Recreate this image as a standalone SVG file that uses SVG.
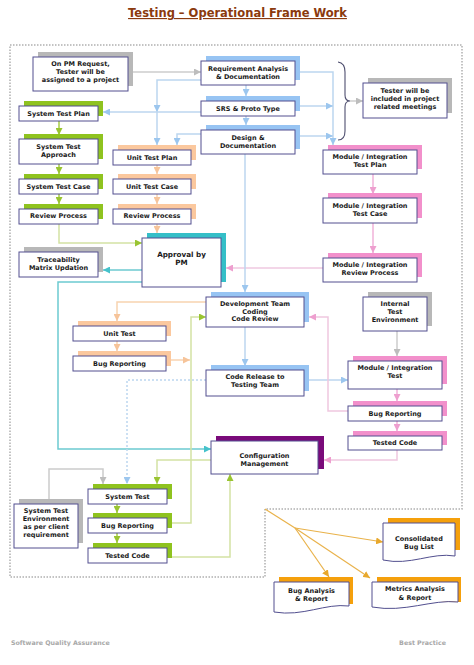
<svg xmlns="http://www.w3.org/2000/svg" width="474" height="665" viewBox="0 0 474 665">
<style>
.bg{fill:#fff}
.box{fill:#fff;stroke:#524f8f;stroke-width:1}
.t{font-family:"DejaVu Sans",Verdana,sans-serif;font-size:6.5px;font-weight:bold;fill:#1a1a1a;text-anchor:middle}
.big{font-size:7.2px}
.title{font-family:"DejaVu Sans",Verdana,sans-serif;font-size:11.5px;font-weight:bold;fill:#8b3a0e;text-anchor:middle;text-decoration:underline}
.foot{font-family:"DejaVu Sans",Verdana,sans-serif;font-size:6.3px;font-weight:bold;fill:#a8a8a8}
.border{fill:none;stroke:#b0b0b0;stroke-width:1.5;stroke-dasharray:1.5 1.5}
.sGray{fill:#b8b8b8}.sBlue{fill:#97c4f3}.sGreen{fill:#8fc31f}.sPeach{fill:#fbc89e}
.sPink{fill:#f290cb}.sTeal{fill:#35bfc8}.sPurple{fill:#7a0a7a}.sOrange{fill:#f5a00c}
.c{fill:none;stroke-width:1.5}
.lGray{stroke:#cccccc}.lBlue{stroke:#bcd6ef}.lGreen{stroke:#a7cc44}.lPale{stroke:#d3e2a4}
.lPeach{stroke:#f8d3b0}.lPink{stroke:#f1b2d8}.lPinkPale{stroke:#efc8e0}.lTeal{stroke:#6ccad1}.lOrange{stroke:#e9b24a;stroke-width:1.2}
.dash{stroke-dasharray:2 2}
.brace{fill:none;stroke:#4f4f6f;stroke-width:1.1}
</style>
<defs>
<marker id="mGray" viewBox="0 0 7 7" refX="7" refY="3.5" markerWidth="7" markerHeight="7" markerUnits="userSpaceOnUse" orient="auto"><path d="M0,0 L7,3.5 L0,7 z" fill="#bdbdbd"/></marker>
<marker id="mBlue" viewBox="0 0 7 7" refX="7" refY="3.5" markerWidth="7" markerHeight="7" markerUnits="userSpaceOnUse" orient="auto"><path d="M0,0 L7,3.5 L0,7 z" fill="#9cc6ee"/></marker>
<marker id="mGreen" viewBox="0 0 7 7" refX="7" refY="3.5" markerWidth="7" markerHeight="7" markerUnits="userSpaceOnUse" orient="auto"><path d="M0,0 L7,3.5 L0,7 z" fill="#99c431"/></marker>
<marker id="mPeach" viewBox="0 0 7 7" refX="7" refY="3.5" markerWidth="7" markerHeight="7" markerUnits="userSpaceOnUse" orient="auto"><path d="M0,0 L7,3.5 L0,7 z" fill="#f6c49a"/></marker>
<marker id="mPink" viewBox="0 0 7 7" refX="7" refY="3.5" markerWidth="7" markerHeight="7" markerUnits="userSpaceOnUse" orient="auto"><path d="M0,0 L7,3.5 L0,7 z" fill="#ee9fcf"/></marker>
<marker id="mTeal" viewBox="0 0 7 7" refX="7" refY="3.5" markerWidth="7" markerHeight="7" markerUnits="userSpaceOnUse" orient="auto"><path d="M0,0 L7,3.5 L0,7 z" fill="#45c2cb"/></marker>
<marker id="mOrange" viewBox="0 0 7 7" refX="7" refY="3.5" markerWidth="7" markerHeight="7" markerUnits="userSpaceOnUse" orient="auto"><path d="M0,0 L7,3.5 L0,7 z" fill="#e8a82c"/></marker>
</defs>
<rect class="bg" x="0" y="0" width="474" height="665"/>
<text class="title" x="237.5" y="17">Testing – Operational Frame Work</text>
<path class="border" d="M10,45 H462 V509 H265 V577 H10 Z"/>

<g id="connectors">
<path class="c lGray" d="M128,72 H201" marker-end="url(#mGray)"/>
<path class="c lBlue" d="M201,80 H157 V112" marker-end="url(#mBlue)"/>
<path class="c lBlue" d="M157,112 V145" marker-end="url(#mBlue)"/>
<path class="c lBlue" d="M201,112 H103" marker-end="url(#mBlue)"/>
<path class="c lBlue" d="M201,134 H177 V145" marker-end="url(#mBlue)"/>
<path class="c lBlue" d="M246,85 V96" marker-end="url(#mBlue)"/>
<path class="c lBlue" d="M246,116 V125" marker-end="url(#mBlue)"/>
<path class="c lBlue" d="M300,72 H333 V145" marker-end="url(#mBlue)"/>
<path class="c lBlue" d="M300,106 H333" marker-end="url(#mBlue)"/>
<path class="c lBlue" d="M300,136 H333" marker-end="url(#mBlue)"/>
<path class="brace" d="M338,62 Q345,63 345,72 V95 Q345,101 350,101 Q345,101 345,107 V131 Q345,140 338,140"/>
<path class="c lGray" d="M350,101 H363" marker-end="url(#mGray)"/>
<path class="c lGreen" d="M59,121 V135" marker-end="url(#mGreen)"/>
<path class="c lGreen" d="M59,164 V174" marker-end="url(#mGreen)"/>
<path class="c lGreen" d="M59,194 V204" marker-end="url(#mGreen)"/>
<path class="c lPale" d="M59,224 V243 H142" marker-end="url(#mGreen)"/>
<path class="c lPeach" d="M157,165 V174" marker-end="url(#mPeach)"/>
<path class="c lPeach" d="M157,194 V204" marker-end="url(#mPeach)"/>
<path class="c lPeach" d="M157,224 V233" marker-end="url(#mPeach)"/>
<path class="c lTeal" d="M142,270 H103" marker-end="url(#mTeal)"/>
<path class="c lTeal" d="M142,282 H58 V449 H211" marker-end="url(#mTeal)"/>
<path class="c lPink" d="M373,174 V194" marker-end="url(#mPink)"/>
<path class="c lPink" d="M373,223 V253" marker-end="url(#mPink)"/>
<path class="c lPinkPale" d="M323,268 H226" marker-end="url(#mPink)"/>
<path class="c lBlue" d="M245,154 V292" marker-end="url(#mBlue)"/>
<path class="c lPeach" d="M206,302 H117 V321" marker-end="url(#mPeach)"/>
<path class="c lPeach" d="M117,341 V351" marker-end="url(#mPeach)"/>
<path class="c lPeach" d="M171,360 H190" marker-end="url(#mPeach)"/>
<path class="c lPale" d="M172,523 H191 V317 H206" marker-end="url(#mGreen)"/>
<path class="c lBlue" d="M245,327 V366" marker-end="url(#mBlue)"/>
<path class="c lBlue" d="M309,380 H348" marker-end="url(#mBlue)"/>
<path class="c lBlue dash" d="M206,380 H127 V484" marker-end="url(#mBlue)"/>
<path class="c lGray" d="M397,331 V356" marker-end="url(#mGray)"/>
<path class="c lPink" d="M397,389 V401" marker-end="url(#mPink)"/>
<path class="c lPink" d="M397,421 V431" marker-end="url(#mPink)"/>
<path class="c lPinkPale" d="M348,411 H328 V317 H309" marker-end="url(#mPink)"/>
<path class="c lPinkPale" d="M397,450 V460 H324" marker-end="url(#mPink)"/>
<path class="c lPale" d="M211,460 H157 V484" marker-end="url(#mGreen)"/>
<path class="c lGray" d="M49,499 V469 H103 V484" marker-end="url(#mGray)"/>
<path class="c lGreen" d="M117,504 V513" marker-end="url(#mGreen)"/>
<path class="c lGreen" d="M117,533 V543" marker-end="url(#mGreen)"/>
<path class="c lPale" d="M172,557 H230 V474" marker-end="url(#mGreen)"/>
<path class="c lOrange" d="M265,509 L295,528"/>
<path class="c lOrange" d="M295,528 L383,542" marker-end="url(#mOrange)"/>
<path class="c lOrange" d="M295,528 L329,577" marker-end="url(#mOrange)"/>
<path class="c lOrange" d="M295,528 L370,578" marker-end="url(#mOrange)"/>
</g>

<g id="n-onpm"><rect class="sGray" x="38" y="52" width="95" height="34"/><rect class="box" x="33" y="57" width="95" height="34"/>
<text class="t" x="80.5" y="66.3">On PM Request,</text><text class="t" x="80.5" y="74.3">Tester will be</text><text class="t" x="80.5" y="82.3">assigned to a project</text></g>
<g id="n-req"><rect class="sBlue" x="206" y="56" width="94" height="24"/><rect class="box" x="201" y="61" width="94" height="24"/>
<text class="t" x="248" y="71.3">Requirement Analysis</text><text class="t" x="248" y="79.3">&amp; Documentation</text></g>
<g id="n-srs"><rect class="sBlue" x="206" y="96" width="94" height="15"/><rect class="box" x="201" y="101" width="94" height="15"/>
<text class="t" x="248" y="110.8">SRS &amp; Proto Type</text></g>
<g id="n-design"><rect class="sBlue" x="206" y="125" width="94" height="24"/><rect class="box" x="201" y="130" width="94" height="24"/>
<text class="t" x="248" y="140.3">Design &amp;</text><text class="t" x="248" y="148">Documentation</text></g>
<g id="n-tester"><rect class="sGray" x="368" y="78" width="84" height="35"/><rect class="box" x="363" y="83" width="84" height="35"/>
<text class="t" x="405" y="93.3">Tester will be</text><text class="t" x="405" y="101.3">included in project</text><text class="t" x="405" y="109.3">related meetings</text></g>

<g id="n-stplan"><rect class="sGreen" x="24" y="101" width="79" height="15"/><rect class="box" x="19" y="106" width="79" height="15"/>
<text class="t" x="58.5" y="115.8">System Test Plan</text></g>
<g id="n-stapproach"><rect class="sGreen" x="24" y="134" width="79" height="25"/><rect class="box" x="19" y="139" width="79" height="25"/>
<text class="t" x="58.5" y="149.3">System Test</text><text class="t" x="58.5" y="157.3">Approach</text></g>
<g id="n-stcase"><rect class="sGreen" x="24" y="174" width="79" height="15"/><rect class="box" x="19" y="179" width="79" height="15"/>
<text class="t" x="58.5" y="188.8">System Test Case</text></g>
<g id="n-streview"><rect class="sGreen" x="24" y="204" width="79" height="15"/><rect class="box" x="19" y="209" width="79" height="15"/>
<text class="t" x="58.5" y="218.3">Review Process</text></g>
<g id="n-trace"><rect class="sGray" x="24" y="247" width="79" height="25"/><rect class="box" x="19" y="252" width="79" height="25"/>
<text class="t" x="58.5" y="262.3">Traceability</text><text class="t" x="58.5" y="270.3">Matrix Updation</text></g>

<g id="n-utplan"><rect class="sPeach" x="118" y="145" width="78" height="15"/><rect class="box" x="113" y="150" width="78" height="15"/>
<text class="t" x="152" y="159.8">Unit Test Plan</text></g>
<g id="n-utcase"><rect class="sPeach" x="118" y="174" width="78" height="15"/><rect class="box" x="113" y="179" width="78" height="15"/>
<text class="t" x="152" y="188.8">Unit Test Case</text></g>
<g id="n-utreview"><rect class="sPeach" x="118" y="204" width="78" height="15"/><rect class="box" x="113" y="209" width="78" height="15"/>
<text class="t" x="152" y="218.3">Review Process</text></g>

<g id="n-approval"><rect class="sTeal" x="147" y="233" width="79" height="49"/><rect class="box" x="142" y="238" width="79" height="49"/>
<text class="t big" x="181.5" y="256.5">Approval by</text><text class="t big" x="181.5" y="264.5">PM</text></g>

<g id="n-mtplan"><rect class="sPink" x="328" y="145" width="94" height="24"/><rect class="box" x="323" y="150" width="94" height="24"/>
<text class="t" x="370" y="159.3">Module / Integration</text><text class="t" x="370" y="166.8">Test Plan</text></g>
<g id="n-mtcase"><rect class="sPink" x="328" y="193" width="94" height="25"/><rect class="box" x="323" y="198" width="94" height="25"/>
<text class="t" x="370" y="208.3">Module / Integration</text><text class="t" x="370" y="215.8">Test Case</text></g>
<g id="n-mtreview"><rect class="sPink" x="328" y="253" width="94" height="24"/><rect class="box" x="323" y="258" width="94" height="24"/>
<text class="t" x="370" y="267.3">Module / Integration</text><text class="t" x="370" y="275.3">Review Process</text></g>

<g id="n-dev"><rect class="sBlue" x="211" y="292" width="98" height="30"/><rect class="box" x="206" y="297" width="98" height="30"/>
<text class="t" x="255" y="306.3">Development Team</text><text class="t" x="255" y="313.8">Coding</text><text class="t" x="255" y="321.3">Code Review</text></g>
<g id="n-unittest"><rect class="sPeach" x="78" y="321" width="93" height="15"/><rect class="box" x="73" y="326" width="93" height="15"/>
<text class="t" x="119.5" y="335.8">Unit Test</text></g>
<g id="n-bugpeach"><rect class="sPeach" x="78" y="351" width="93" height="15"/><rect class="box" x="73" y="356" width="93" height="15"/>
<text class="t" x="119.5" y="365.8">Bug Reporting</text></g>
<g id="n-coderel"><rect class="sBlue" x="211" y="365" width="98" height="26"/><rect class="box" x="206" y="370" width="98" height="26"/>
<text class="t" x="255" y="379.3">Code Release to</text><text class="t" x="255" y="387.3">Testing Team</text></g>

<g id="n-internal"><rect class="sGray" x="368" y="292" width="64" height="34"/><rect class="box" x="363" y="297" width="64" height="34"/>
<text class="t" x="395" y="306.3">Internal</text><text class="t" x="395" y="314.3">Test</text><text class="t" x="395" y="322.3">Environment</text></g>
<g id="n-mitest"><rect class="sPink" x="353" y="356" width="94" height="28"/><rect class="box" x="348" y="361" width="94" height="28"/>
<text class="t" x="395" y="370.3">Module / Integration</text><text class="t" x="395" y="378.3">Test</text></g>
<g id="n-bugpink"><rect class="sPink" x="353" y="401" width="94" height="15"/><rect class="box" x="348" y="406" width="94" height="15"/>
<text class="t" x="395" y="415.8">Bug Reporting</text></g>
<g id="n-testedpink"><rect class="sPink" x="353" y="431" width="94" height="14"/><rect class="box" x="348" y="436" width="94" height="14"/>
<text class="t" x="395" y="445.3">Tested Code</text></g>

<g id="n-config"><rect class="sPurple" x="216" y="436" width="108" height="33"/><rect class="box" x="211" y="441" width="107" height="33"/>
<text class="t" x="264.5" y="458.3">Configuration</text><text class="t" x="264.5" y="465.8">Management</text></g>

<g id="n-systest"><rect class="sGreen" x="93" y="484" width="79" height="15"/><rect class="box" x="88" y="489" width="79" height="15"/>
<text class="t" x="127.5" y="498.8">System Test</text></g>
<g id="n-buggreen"><rect class="sGreen" x="93" y="513" width="79" height="15"/><rect class="box" x="88" y="518" width="79" height="15"/>
<text class="t" x="127.5" y="527.8">Bug Reporting</text></g>
<g id="n-testedgreen"><rect class="sGreen" x="93" y="543" width="79" height="15"/><rect class="box" x="88" y="548" width="79" height="15"/>
<text class="t" x="127.5" y="557.8">Tested Code</text></g>
<g id="n-stenv"><rect class="sGray" x="19" y="499" width="64" height="44"/><rect class="box" x="14" y="504" width="64" height="44"/>
<text class="t" x="46" y="513.3">System Test</text><text class="t" x="46" y="521.3">Environment</text><text class="t" x="46" y="529.3">as per client</text><text class="t" x="46" y="537.3">requirement</text></g>

<g id="n-consolidated"><rect class="sOrange" x="388" y="518" width="72" height="32"/>
<path class="box" d="M383,523 H455 V556 C432,552 410,566 383,560 Z"/>
<text class="t" x="419" y="541.3">Consolidated</text><text class="t" x="419" y="549.3">Bug List</text></g>
<g id="n-buganalysis"><rect class="sOrange" x="279" y="577" width="74" height="27"/>
<path class="box" d="M274,582 H349 V606 C325,603 303,617 274,612 Z"/>
<text class="t" x="311.5" y="593.3">Bug Analysis</text><text class="t" x="311.5" y="601.3">&amp; Report</text></g>
<g id="n-metrics"><rect class="sOrange" x="377" y="577" width="84" height="25"/>
<path class="box" d="M372,582 H458 V602 C432,599 405,613 372,607 Z"/>
<text class="t" x="415" y="591.3">Metrics Analysis</text><text class="t" x="415" y="600.3">&amp; Report</text></g>

<text class="foot" x="11" y="645">Software Quality Assurance</text>
<text class="foot" x="446" y="645" text-anchor="end">Best Practice</text>
</svg>
